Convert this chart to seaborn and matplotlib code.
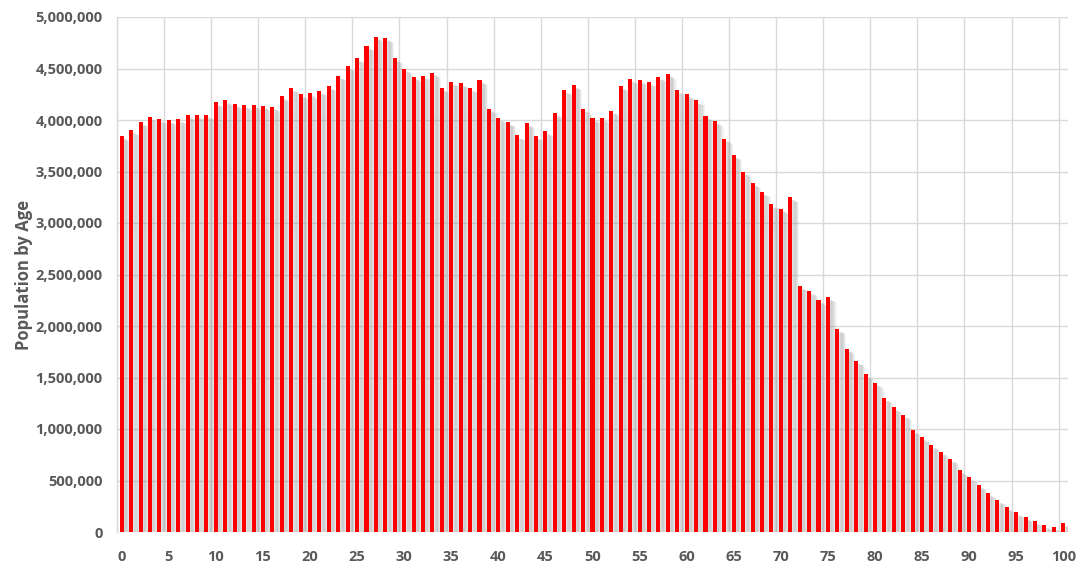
import numpy as np
import pandas as pd
import matplotlib
matplotlib.use("Agg")
import matplotlib.pyplot as plt
import matplotlib.patheffects as pe
from matplotlib.ticker import FuncFormatter, MultipleLocator, FixedLocator
import seaborn as sns

ages = list(range(0, 101))
population_millions = [
    3.845, 3.90, 3.98, 4.03, 4.01, 4.00, 4.01, 4.05, 4.05, 4.05,   # 0-9
    4.17, 4.19, 4.16, 4.15, 4.15, 4.14, 4.13, 4.23, 4.31, 4.25,    # 10-19
    4.26, 4.28, 4.33, 4.43, 4.52, 4.60, 4.72, 4.81, 4.80, 4.60,    # 20-29
    4.50, 4.42, 4.43, 4.46, 4.31, 4.37, 4.36, 4.31, 4.39, 4.11,    # 30-39
    4.02, 3.98, 3.85, 3.97, 3.845, 3.89, 4.07, 4.29, 4.34, 4.11,   # 40-49
    4.02, 4.02, 4.09, 4.33, 4.40, 4.39, 4.37, 4.42, 4.45, 4.29,    # 50-59
    4.25, 4.19, 4.04, 3.99, 3.82, 3.66, 3.50, 3.39, 3.30, 3.18,    # 60-69
    3.14, 3.25, 2.39, 2.34, 2.25, 2.28, 1.97, 1.78, 1.66, 1.53,    # 70-79
    1.45, 1.30, 1.21, 1.14, 0.99, 0.92, 0.845, 0.78, 0.71, 0.60,   # 80-89
    0.53, 0.456, 0.38, 0.31, 0.24, 0.19, 0.146, 0.107, 0.068, 0.049,  # 90-99
    0.087,                                                          # 100
]
population = [v * 1_000_000 for v in population_millions]
tick_ages = list(range(0, 101, 5))
y_label = "Population by Age"

df = pd.DataFrame({"age": ages, "population": population})

sns.set_theme(style="white")
plt.rcParams["font.family"] = ["Open Sans", "DejaVu Sans"]

fig = plt.figure(figsize=(10.83, 5.68), dpi=100)
ax = fig.add_axes([117 / 1083, 1 - 532 / 568, (1068 - 117) / 1083, (532 - 17) / 568])

sns.barplot(data=df, x="age", y="population", color="#ff0000", saturation=1,
            width=0.43, ax=ax, zorder=3, native_scale=False)

# soft drop shadow to the lower right of each bar
shadow = [
    pe.SimplePatchShadow(offset=(4.8, -3.6), shadow_rgbFace="#999999", alpha=0.11),
    pe.SimplePatchShadow(offset=(4.0, -3.1), shadow_rgbFace="#999999", alpha=0.14),
    pe.SimplePatchShadow(offset=(3.2, -2.7), shadow_rgbFace="#999999", alpha=0.16),
    pe.SimplePatchShadow(offset=(2.4, -2.3), shadow_rgbFace="#999999", alpha=0.16),
    pe.SimplePatchShadow(offset=(1.6, -1.9), shadow_rgbFace="#999999", alpha=0.14),
    pe.Normal(),
]
for p in ax.patches:
    p.set_path_effects(shadow)
    p.set_linewidth(0)

ax.set_xlim(-0.5, 100.5)
ax.set_ylim(0, 5_000_000)

ax.xaxis.set_major_locator(FixedLocator(tick_ages))
ax.set_xticklabels([str(a) for a in tick_ages])
ax.xaxis.set_minor_locator(FixedLocator([a - 0.5 for a in tick_ages]))
ax.yaxis.set_major_locator(MultipleLocator(500_000))
ax.yaxis.set_major_formatter(FuncFormatter(lambda v, _: f"{int(v):,}"))

ax.grid(False)
ax.grid(True, which="minor", axis="x", color="#d9d9d9", linewidth=1.0, zorder=0)
ax.grid(True, which="major", axis="y", color="#d9d9d9", linewidth=1.0, zorder=0)
ax.set_axisbelow(True)

for s in ["top", "right", "bottom"]:
    ax.spines[s].set_visible(False)
ax.spines["left"].set_color("#d9d9d9")
ax.spines["left"].set_linewidth(1.0)

ax.tick_params(axis="both", which="both", length=0, colors="#595959")
ax.tick_params(axis="x", pad=13)
ax.tick_params(axis="y", pad=10.5)
for lab in ax.get_xticklabels() + ax.get_yticklabels():
    lab.set_fontsize(10.5)
    lab.set_fontweight("bold")
    lab.set_color("#595959")

ax.set_xlabel("")
ax.set_ylabel(y_label, fontsize=12, fontweight="bold", color="#595959")
ax.yaxis.set_label_coords((24 - 117) / 951, 0.5)
ax.yaxis.label.set_va("center")

fig.savefig("out.png", dpi=100)
